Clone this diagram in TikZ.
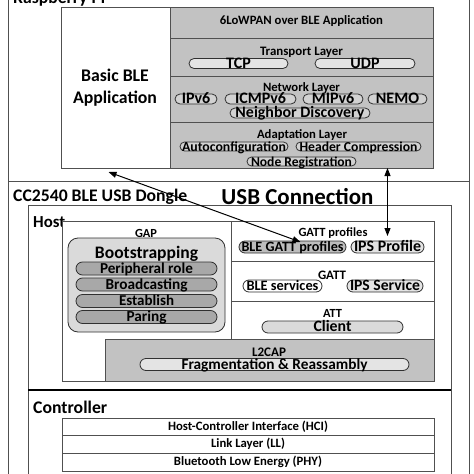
\documentclass[tikz,border=0pt]{standalone}
\usepackage{graphicx}
\usepackage{fontspec}
\setmainfont{Carlito}
\usetikzlibrary{arrows.meta}
\newcommand\fitw[2]{\resizebox{#1pt}{!}{#2}}
\definecolor{lc}{HTML}{505050}
\definecolor{pc}{HTML}{303030}
\definecolor{bgA}{HTML}{C2C2C2}
\definecolor{gapc}{HTML}{DADADA}
\definecolor{gapp}{HTML}{A8A8A8}
\definecolor{pl}{HTML}{E4E4E4}
\definecolor{pm}{HTML}{D2D2D2}
\definecolor{pd}{HTML}{BDBDBD}
\tikzset{
  blk/.style={draw=lc, line width=1pt, inner sep=0pt, outer sep=0pt, anchor=north west},
  lbl/.style={inner sep=0pt, font=\bfseries\fontsize{12}{14}\selectfont},
  big/.style={inner sep=0pt, font=\bfseries\fontsize{17}{19}\selectfont},
  pill/.style={draw=pc, line width=0.8pt, inner sep=0pt, outer sep=0pt, rounded corners=5pt,
    minimum height=10pt, text height=9pt, text depth=0pt, font=\bfseries\fontsize{16}{17}\selectfont},
  gpill/.style={pill, fill=gapp, minimum height=13pt, rounded corners=6.5pt, text height=9.5pt},
  ctl/.style={blk, fill=white, minimum width=372pt},
  conn/.style={{Triangle[length=8pt,width=6pt]}-{Triangle[length=8pt,width=6pt]}, line width=1pt, black}
}
\begin{document}
\begin{tikzpicture}[x=1pt,y=-1pt]
\clip (0,0) rectangle (474,474);
\fill[white] (0,0) rectangle (474,474);
% ---------- Raspberry Pi ----------
\node[blk, minimum width=461pt, minimum height=191pt] (pi) at (8,-10) {};
\node[big, anchor=base west] (pititle) at (13,3) {\fitw{92}{Raspberry Pi}};
\node[blk, fill=white, minimum width=109pt, minimum height=161pt] (basic) at (61,7) {};
\node[inner sep=0pt, font=\bfseries\fontsize{19}{24}\selectfont] (basictxt) at (115,88) {\fitw{84}{\begin{tabular}{@{}c@{}}Basic BLE\\Application\end{tabular}}};
\node[blk, fill=bgA, minimum width=263pt, minimum height=31pt] (app) at (170,7) {};
\node[blk, fill=bgA, minimum width=263pt, minimum height=38pt] (trans) at (170,38) {};
\node[blk, fill=bgA, minimum width=263pt, minimum height=46pt] (net) at (170,76) {};
\node[blk, fill=bgA, minimum width=263pt, minimum height=46pt] (adapt) at (170,122) {};
\node[lbl] (appl) at (301.5,21) {\fitw{163}{6LoWPAN over BLE Application}};
\node[lbl] (transl) at (301.5,52) {\fitw{83}{Transport Layer}};
\node[pill, fill=pl, minimum width=99pt] (tcp) at (238.5,63.5) {TCP};
\node[pill, fill=pl, minimum width=100pt] (udp) at (365,63.5) {UDP};
\node[lbl] (netl) at (301.5,88) {\fitw{77}{Network Layer}};
\node[pill, fill=pm, minimum width=42pt] (ipv6) at (196,99) {IPv6};
\node[pill, fill=pm, minimum width=71pt] (icmp) at (260.5,99) {ICMPv6};
\node[pill, fill=pm, minimum width=60pt] (mip) at (333,99) {MIPv6};
\node[pill, fill=pm, minimum width=59pt] (nemo) at (397.5,99) {NEMO};
\node[pill, fill=pm, minimum width=140pt] (nd) at (300,113) {\fitw{129}{Neighbor Discovery}};
\node[lbl] (adaptl) at (302,135) {\fitw{90}{Adaptation Layer}};
\node[pill, fill=pm, minimum width=108pt, minimum height=9pt, rounded corners=4.5pt] (auto) at (234,146.5) {\fitw{104}{Autoconfiguration}};
\node[pill, fill=pm, minimum width=125pt, minimum height=9pt, rounded corners=4.5pt] (hc) at (358.5,146.5) {\fitw{118}{Header Compression}};
\node[pill, fill=pm, minimum width=109pt, minimum height=9pt, rounded corners=4.5pt] (nr) at (301.5,161.5) {\fitw{101}{Node Registration}};
% ---------- Dongle ----------
\node[blk, minimum width=461pt, minimum height=300pt] (dongle) at (8,181) {};
\node[big, anchor=west] (donglel) at (13,197) {\fitw{174}{CC2540 BLE USB Dongle}};
\node[inner sep=0pt, font=\bfseries\fontsize{22}{24}\selectfont] (usb) at (297.5,197) {\fitw{152}{USB Connection}};
\node[blk, minimum width=423pt, minimum height=280pt] (hostouter) at (28,205) {};
\draw[line width=1.5pt, black] (hostouter.west |- 0,390) -- (hostouter.east |- 0,390);
\node[big, anchor=west] (hostl) at (33,222) {\fitw{32}{Host}};
\node[blk, fill=white, minimum width=372pt, minimum height=160pt] (host) at (62,221) {};
\node[blk, minimum width=203pt, minimum height=40pt] (gattp) at (231,221) {};
\node[blk, minimum width=203pt, minimum height=40pt] (gatt) at (231,261) {};
\node[blk, minimum width=203pt, minimum height=38pt] (att) at (231,301) {};
\draw[lc, line width=1pt] (gattp.north west) -- (att.south west);
\node[blk, fill=bgA, minimum width=329pt, minimum height=42pt] (l2cap) at (105,339) {};
% GAP
\node[lbl] (gapl) at (146,233) {\fitw{22}{GAP}};
\node[blk, draw=pc, line width=0.8pt, fill=gapc, rounded corners=10pt, minimum width=157pt, minimum height=94pt] (boot) at (68,238) {};
\node[inner sep=0pt, font=\bfseries\fontsize{18}{20}\selectfont] (bootl) at (146.5,254) {\fitw{103}{Bootstrapping}};
\node[gpill, minimum width=141pt] (periph) at (146.5,268.5) {\fitw{93}{Peripheral role}};
\node[gpill, minimum width=141pt] (broad) at (146.5,284.5) {\fitw{82}{Broadcasting}};
\node[gpill, minimum width=141pt] (estab) at (146.5,301) {\fitw{55}{Establish}};
\node[gpill, minimum width=141pt] (paring) at (146.5,317) {\fitw{40}{Paring}};
% GATT
\node[lbl] (gattpl) at (333,233) {\fitw{69}{GATT profiles}};
\node[pill, fill=pd, minimum width=107pt, minimum height=12pt, rounded corners=6pt] (blegp) at (292.5,247) {\fitw{102}{BLE GATT profiles}};
\node[pill, fill=pl, minimum width=73pt, minimum height=12pt, rounded corners=6pt] (ipsp) at (387.5,247) {\fitw{67}{IPS Profile}};
\node[lbl] (gattl) at (332,275) {\fitw{28}{GATT}};
\node[pill, fill=white, minimum width=79pt, minimum height=12pt, rounded corners=6pt] (bles) at (282.5,286) {\fitw{72}{BLE services}};
\node[pill, fill=pl, minimum width=76pt, minimum height=12pt, rounded corners=6pt] (ipss) at (385,286) {\fitw{70}{IPS Service}};
\node[lbl] (attl) at (332.5,313) {\fitw{19}{ATT}};
\node[pill, fill=gapc, minimum width=141pt, minimum height=12pt, rounded corners=6pt] (client) at (332.5,327) {\fitw{38}{Client}};
\node[lbl] (l2capl) at (269,352) {\fitw{34}{L2CAP}};
\node[pill, fill=pl, minimum width=269pt, minimum height=12pt, rounded corners=6pt] (frag) at (274.5,364.5) {\fitw{186}{Fragmentation \& Reassambly}};
% Controller
\node[big, anchor=west] (ctll) at (33,407) {\fitw{74}{Controller}};
\node[ctl, minimum height=17pt] (hci) at (62,418) {};
\node[ctl, minimum height=18pt] (ll) at (62,435) {};
\node[ctl, minimum height=18pt] (phy) at (62,453) {};
\node[lbl] (hcil) at (248,426.5) {\fitw{160}{Host-Controller Interface (HCI)}};
\node[lbl] (lll) at (248,444) {\fitw{74}{Link Layer (LL)}};
\node[lbl] (phyl) at (248,462) {\fitw{148}{Bluetooth Low Energy (PHY)}};
% Connections
\draw[conn] ([xshift=-7pt,yshift=-4pt]basic.south) -- ([xshift=8pt,yshift=-1pt]blegp.north);
\draw[conn] (adapt.south -| ipsp.north) -- ([yshift=5pt]ipsp.north);
\end{tikzpicture}
\end{document}
